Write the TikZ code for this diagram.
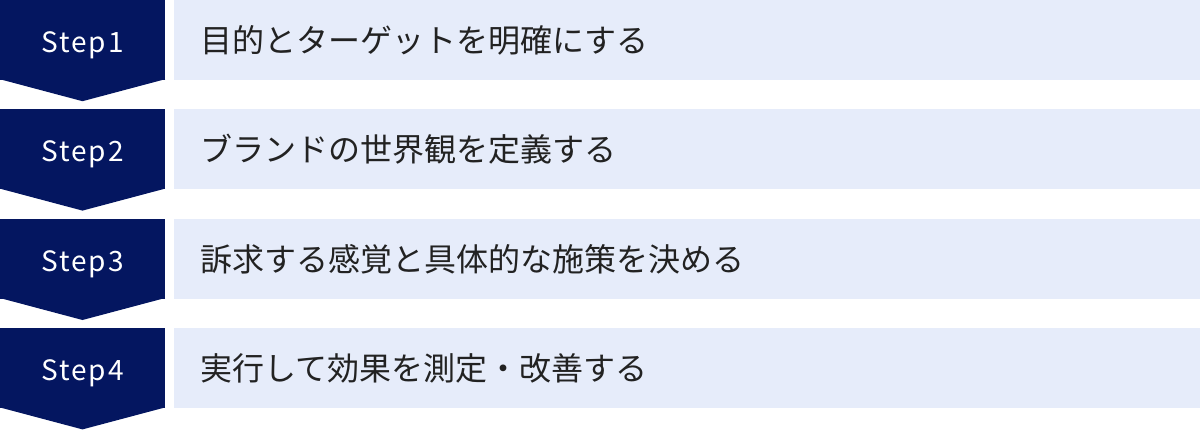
\documentclass[tikz,border=0pt]{standalone}
\usepackage{fontspec}
\setmainfont{Noto Sans CJK JP}
\newfontfamily\stepfont[LetterSpace=7]{Noto Sans CJK JP}
\usetikzlibrary{positioning}
\definecolor{stepnavy}{RGB}{4,22,96}
\definecolor{barblue}{RGB}{230,236,250}
\definecolor{bartext}{RGB}{34,34,34}
\tikzset{x=1pt, y=1pt,
	node distance=29pt, % gap between two rows
	stepbox/.style={fill=stepnavy, text=white, minimum width=165pt, minimum height=80pt, inner sep=0pt,
		text height=25pt, text depth=0pt, font=\stepfont\fontsize{28pt}{28pt}\selectfont}, % the dark step label
	barbox/.style={fill=barblue, text=bartext, minimum height=80pt, text width=974pt, inner xsep=26pt,
		inner ysep=0pt, align=left, font=\fontsize{32pt}{32pt}\selectfont}, % the light text bar
	steptip/.style={fill=stepnavy}, % the point under a step label
}

\begin{document}
\begin{tikzpicture}
	\useasboundingbox (0,0) rectangle (1200,-429);
	% Step 1
	\node[stepbox] (Step1) at (82.5,-40) {Step1};
	\node[barbox, right=9pt of Step1] (Goal) {目的とターゲットを明確にする};
	\fill[steptip] ([yshift=1pt]Step1.south west) -- ([yshift=1pt]Step1.south east) -- ([yshift=-21pt]Step1.south) -- cycle;
	% Step 2
	\node[stepbox, below=of Step1] (Step2) {Step2};
	\node[barbox, right=9pt of Step2] (World) {ブランドの世界観を定義する};
	\fill[steptip] ([yshift=1pt]Step2.south west) -- ([yshift=1pt]Step2.south east) -- ([yshift=-21pt]Step2.south) -- cycle;
	% Step 3
	\node[stepbox, below=of Step2] (Step3) {Step3};
	\node[barbox, right=9pt of Step3] (Sense) {訴求する感覚と具体的な施策を決める};
	\fill[steptip] ([yshift=1pt]Step3.south west) -- ([yshift=1pt]Step3.south east) -- ([yshift=-21pt]Step3.south) -- cycle;
	% Step 4
	\node[stepbox, below=of Step3] (Step4) {Step4};
	\node[barbox, right=9pt of Step4] (Measure) {実行して効果を測定・改善する};
	\fill[steptip] ([yshift=1pt]Step4.south west) -- ([yshift=1pt]Step4.south east) -- ([yshift=-21pt]Step4.south) -- cycle;
\end{tikzpicture}
\end{document}
